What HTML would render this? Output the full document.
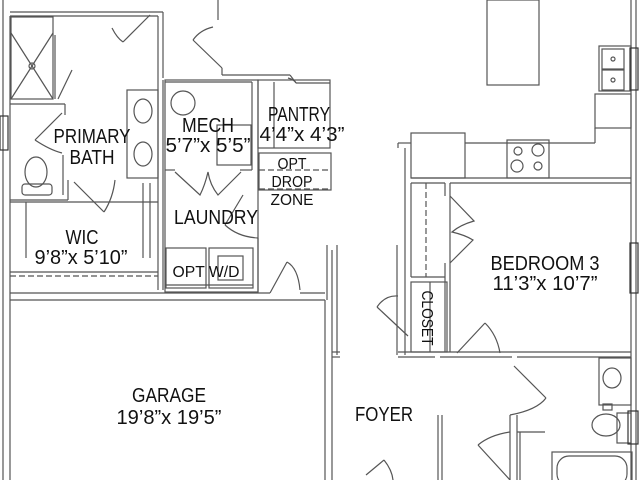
<!DOCTYPE html>
<html><head><style>
html,body{margin:0;padding:0;background:#fff;width:640px;height:480px;overflow:hidden}
svg{display:block}
text{font-family:"Liberation Sans",sans-serif;fill:#111;text-anchor:middle}
</style></head><body>
<svg width="640" height="480" viewBox="0 0 640 480" fill="none" stroke="#555" stroke-width="1.2">
<line x1="3" y1="0" x2="3" y2="480"/><line x1="10" y1="16" x2="10" y2="480"/>
<rect x="0" y="116" width="8" height="34" stroke="#333"/>
<line x1="10" y1="12" x2="163" y2="12"/><line x1="10" y1="16" x2="158" y2="16"/>
<line x1="163" y1="12" x2="163" y2="78"/>
<line x1="123" y1="42" x2="150" y2="15"/><path d="M112 28 Q117 38 123 42"/>
<line x1="158" y1="16" x2="158" y2="290"/><line x1="163" y1="80" x2="163" y2="290"/>
<rect x="11" y="17" width="42" height="82"/><line x1="11" y1="33" x2="53" y2="99"/><line x1="53" y1="33" x2="11" y2="99"/>
<circle cx="32" cy="66" r="3"/><line x1="55" y1="35" x2="55" y2="99"/>
<line x1="58" y1="99" x2="72" y2="70"/>
<line x1="10" y1="104" x2="65" y2="104"/><line x1="65" y1="104" x2="65" y2="115"/>
<line x1="10" y1="200" x2="68" y2="200"/><line x1="68" y1="180" x2="68" y2="200"/><line x1="63" y1="155" x2="63" y2="195"/>
<ellipse cx="36" cy="172" rx="11" ry="15"/><rect x="22" y="184" width="30" height="11" rx="3"/>
<line x1="62" y1="113" x2="35" y2="140"/><path d="M35 140 Q50 150 62 153"/>
<rect x="127" y="90" width="31" height="88"/><ellipse cx="143" cy="111" rx="9" ry="12"/><ellipse cx="143" cy="154" rx="9" ry="12"/>
<line x1="74" y1="182" x2="104" y2="212"/><path d="M104 212 Q113 198 115 180"/>
<line x1="10" y1="202" x2="158" y2="202"/>
<line x1="26" y1="202" x2="26" y2="258"/>
<line x1="143" y1="183" x2="143" y2="258"/><line x1="150" y1="183" x2="150" y2="258"/>
<line x1="10" y1="276" x2="158" y2="276" stroke-dasharray="6 3"/><line x1="10" y1="272" x2="158" y2="272"/>
<line x1="10" y1="293" x2="270" y2="293"/><line x1="10" y1="300" x2="325" y2="300"/>
<line x1="325" y1="300" x2="325" y2="480"/><line x1="332" y1="250" x2="332" y2="480"/>
<line x1="332" y1="352" x2="340" y2="352"/><line x1="332" y1="357" x2="340" y2="357"/>
<line x1="270" y1="293" x2="287" y2="262"/><path d="M287 262 Q298 268 300 290"/>
<line x1="300" y1="293" x2="325" y2="293"/>
<rect x="165" y="80" width="93" height="212"/>
<line x1="165" y1="82" x2="252" y2="82"/><line x1="252" y1="82" x2="252" y2="170"/>
<circle cx="183" cy="103" r="12"/><rect x="217" y="125" width="34" height="40"/>
<line x1="165" y1="170" x2="175" y2="170"/><line x1="240" y1="170" x2="252" y2="170"/>
<path d="M175 172 L200 195 Q205 185 208 172 Q210 185 218 195 L241 172"/>
<line x1="243" y1="195" x2="225" y2="225"/><path d="M225 225 Q238 237 258 238"/>
<rect x="166" y="248" width="40" height="40"/><rect x="209" y="248" width="44" height="40"/>
<line x1="166" y1="285" x2="253" y2="285"/><rect x="218" y="256" width="25" height="24"/>
<line x1="258" y1="238" x2="258" y2="292"/>
<rect x="258" y="80" width="72" height="68"/><line x1="274" y1="82" x2="274" y2="148"/>
<path d="M288 78 Q295 80 296 83"/><line x1="296" y1="83" x2="330" y2="83"/>
<rect x="259" y="153" width="72" height="37"/>
<line x1="259" y1="170" x2="330" y2="170" stroke-dasharray="6 3"/><line x1="259" y1="189" x2="330" y2="189" stroke-dasharray="6 3"/>
<line x1="193" y1="40" x2="222" y2="68"/><path d="M193 40 Q200 30 213 27"/>
<line x1="218" y1="0" x2="218" y2="20"/><line x1="222" y1="68" x2="222" y2="75"/><line x1="222" y1="75" x2="290" y2="75"/>
<line x1="290" y1="75" x2="296" y2="83"/>
<line x1="327" y1="245" x2="327" y2="300"/>
<rect x="487" y="0" width="52" height="85"/>
<line x1="631" y1="0" x2="631" y2="480"/><line x1="636" y1="0" x2="636" y2="480"/>
<rect x="599" y="46" width="32" height="45"/><rect x="602" y="49" width="22" height="20"/><rect x="602" y="70" width="22" height="20"/>
<circle cx="613" cy="59" r="2"/><circle cx="613" cy="80" r="2"/>
<rect x="630" y="48" width="8" height="42" stroke="#333"/>
<rect x="595" y="94" width="36" height="34"/>
<line x1="595" y1="128" x2="595" y2="143"/><line x1="465" y1="143" x2="595" y2="143"/>
<rect x="411" y="133" width="54" height="45"/><line x1="398" y1="143" x2="411" y2="143"/><line x1="398" y1="143" x2="398" y2="148"/><line x1="405" y1="148" x2="405" y2="355"/>
<rect x="507" y="140" width="42" height="38"/>
<circle cx="518" cy="151" r="4"/><circle cx="538" cy="150" r="6"/><circle cx="517" cy="166" r="6"/><circle cx="538" cy="166" r="4"/>
<line x1="411" y1="178" x2="631" y2="178"/>
<line x1="411" y1="183" x2="445" y2="183"/><line x1="450" y1="183" x2="631" y2="183"/>
<line x1="411" y1="183" x2="411" y2="277"/><line x1="411" y1="277" x2="445" y2="277"/>
<line x1="426" y1="183" x2="426" y2="277" stroke-dasharray="6 3"/>
<line x1="445" y1="183" x2="445" y2="196"/><line x1="450" y1="183" x2="450" y2="352"/>
<path d="M450 196 L474 221 Q460 225 452 232 Q465 235 473 240 L450 263"/>
<line x1="445" y1="263" x2="445" y2="352"/>
<rect x="630" y="243" width="8" height="50" stroke="#333"/>
<rect x="411" y="282" width="36" height="70"/><line x1="430" y1="282" x2="430" y2="352"/>
<line x1="398" y1="352" x2="631" y2="352"/><line x1="398" y1="357" x2="435" y2="357"/><line x1="440" y1="357" x2="512" y2="357"/><line x1="517" y1="357" x2="631" y2="357"/>
<line x1="377" y1="307" x2="408" y2="336"/><path d="M377 307 Q385 295 398 296"/>
<line x1="457" y1="353" x2="485" y2="323"/><path d="M485 323 Q497 335 500 353"/>
<line x1="514" y1="366" x2="546" y2="398"/><path d="M546 398 Q537 410 510 415"/>
<line x1="397" y1="245" x2="397" y2="355"/>
<line x1="337" y1="245" x2="337" y2="355"/>
<rect x="599" y="358" width="32" height="47"/><ellipse cx="612" cy="378" rx="9" ry="10"/><rect x="603" y="404" width="9" height="6"/>
<ellipse cx="606" cy="425" rx="14" ry="11"/><rect x="617" y="413" width="14" height="30"/>
<rect x="628" y="411" width="10" height="33" stroke="#333"/>
<rect x="552" y="452" width="80" height="30"/><rect x="557" y="456" width="70" height="30" rx="12"/>
<line x1="510" y1="415" x2="510" y2="480"/><line x1="517" y1="415" x2="517" y2="480"/><line x1="517" y1="432" x2="545" y2="432"/><line x1="520" y1="432" x2="520" y2="480"/>
<line x1="478" y1="445" x2="510" y2="480"/><path d="M478 445 Q490 435 510 432"/>
<line x1="438" y1="415" x2="438" y2="480"/><line x1="442" y1="415" x2="442" y2="480"/>
<line x1="366" y1="475" x2="384" y2="460"/><path d="M384 460 Q392 470 393 480"/>
</svg>
<svg width="640" height="480" style="position:absolute;left:0;top:0" viewBox="0 0 640 480">
<g font-size="20" lengthAdjust="spacingAndGlyphs">
<text x="92" y="143" textLength="77" lengthAdjust="spacingAndGlyphs">PRIMARY</text><text x="92" y="164" textLength="45" lengthAdjust="spacingAndGlyphs">BATH</text>
<text x="82" y="244" textLength="33" lengthAdjust="spacingAndGlyphs">WIC</text><text x="81" y="264" textLength="93" lengthAdjust="spacingAndGlyphs">9’8”x 5’10”</text>
<text x="208" y="132" textLength="52" lengthAdjust="spacingAndGlyphs">MECH</text><text x="208" y="152" textLength="85" lengthAdjust="spacingAndGlyphs">5’7”x 5’5”</text>
<text x="299" y="121" textLength="62" lengthAdjust="spacingAndGlyphs">PANTRY</text><text x="302" y="141" textLength="85" lengthAdjust="spacingAndGlyphs">4’4”x 4’3”</text>
<text x="216" y="224" textLength="84" lengthAdjust="spacingAndGlyphs">LAUNDRY</text>
<text x="384" y="421" textLength="58" lengthAdjust="spacingAndGlyphs">FOYER</text>
<text x="545" y="270" textLength="109" lengthAdjust="spacingAndGlyphs">BEDROOM 3</text><text x="545" y="290" textLength="105" lengthAdjust="spacingAndGlyphs">11’3”x 10’7”</text>
<text x="169" y="402" textLength="74" lengthAdjust="spacingAndGlyphs">GARAGE</text><text x="169" y="424" textLength="105" lengthAdjust="spacingAndGlyphs">19’8”x 19’5”</text>
</g>
<g font-size="16">
<text x="292" y="169" textLength="29" lengthAdjust="spacingAndGlyphs">OPT</text><text x="292" y="187" textLength="41" lengthAdjust="spacingAndGlyphs">DROP</text><text x="292" y="205" textLength="43" lengthAdjust="spacingAndGlyphs">ZONE</text>
<text x="206" y="277" textLength="67" lengthAdjust="spacingAndGlyphs">OPT W/D</text>
<text x="0" y="0" transform="translate(422,318) rotate(90)" textLength="55" lengthAdjust="spacingAndGlyphs">CLOSET</text>
</g>
</svg>
</body></html>
